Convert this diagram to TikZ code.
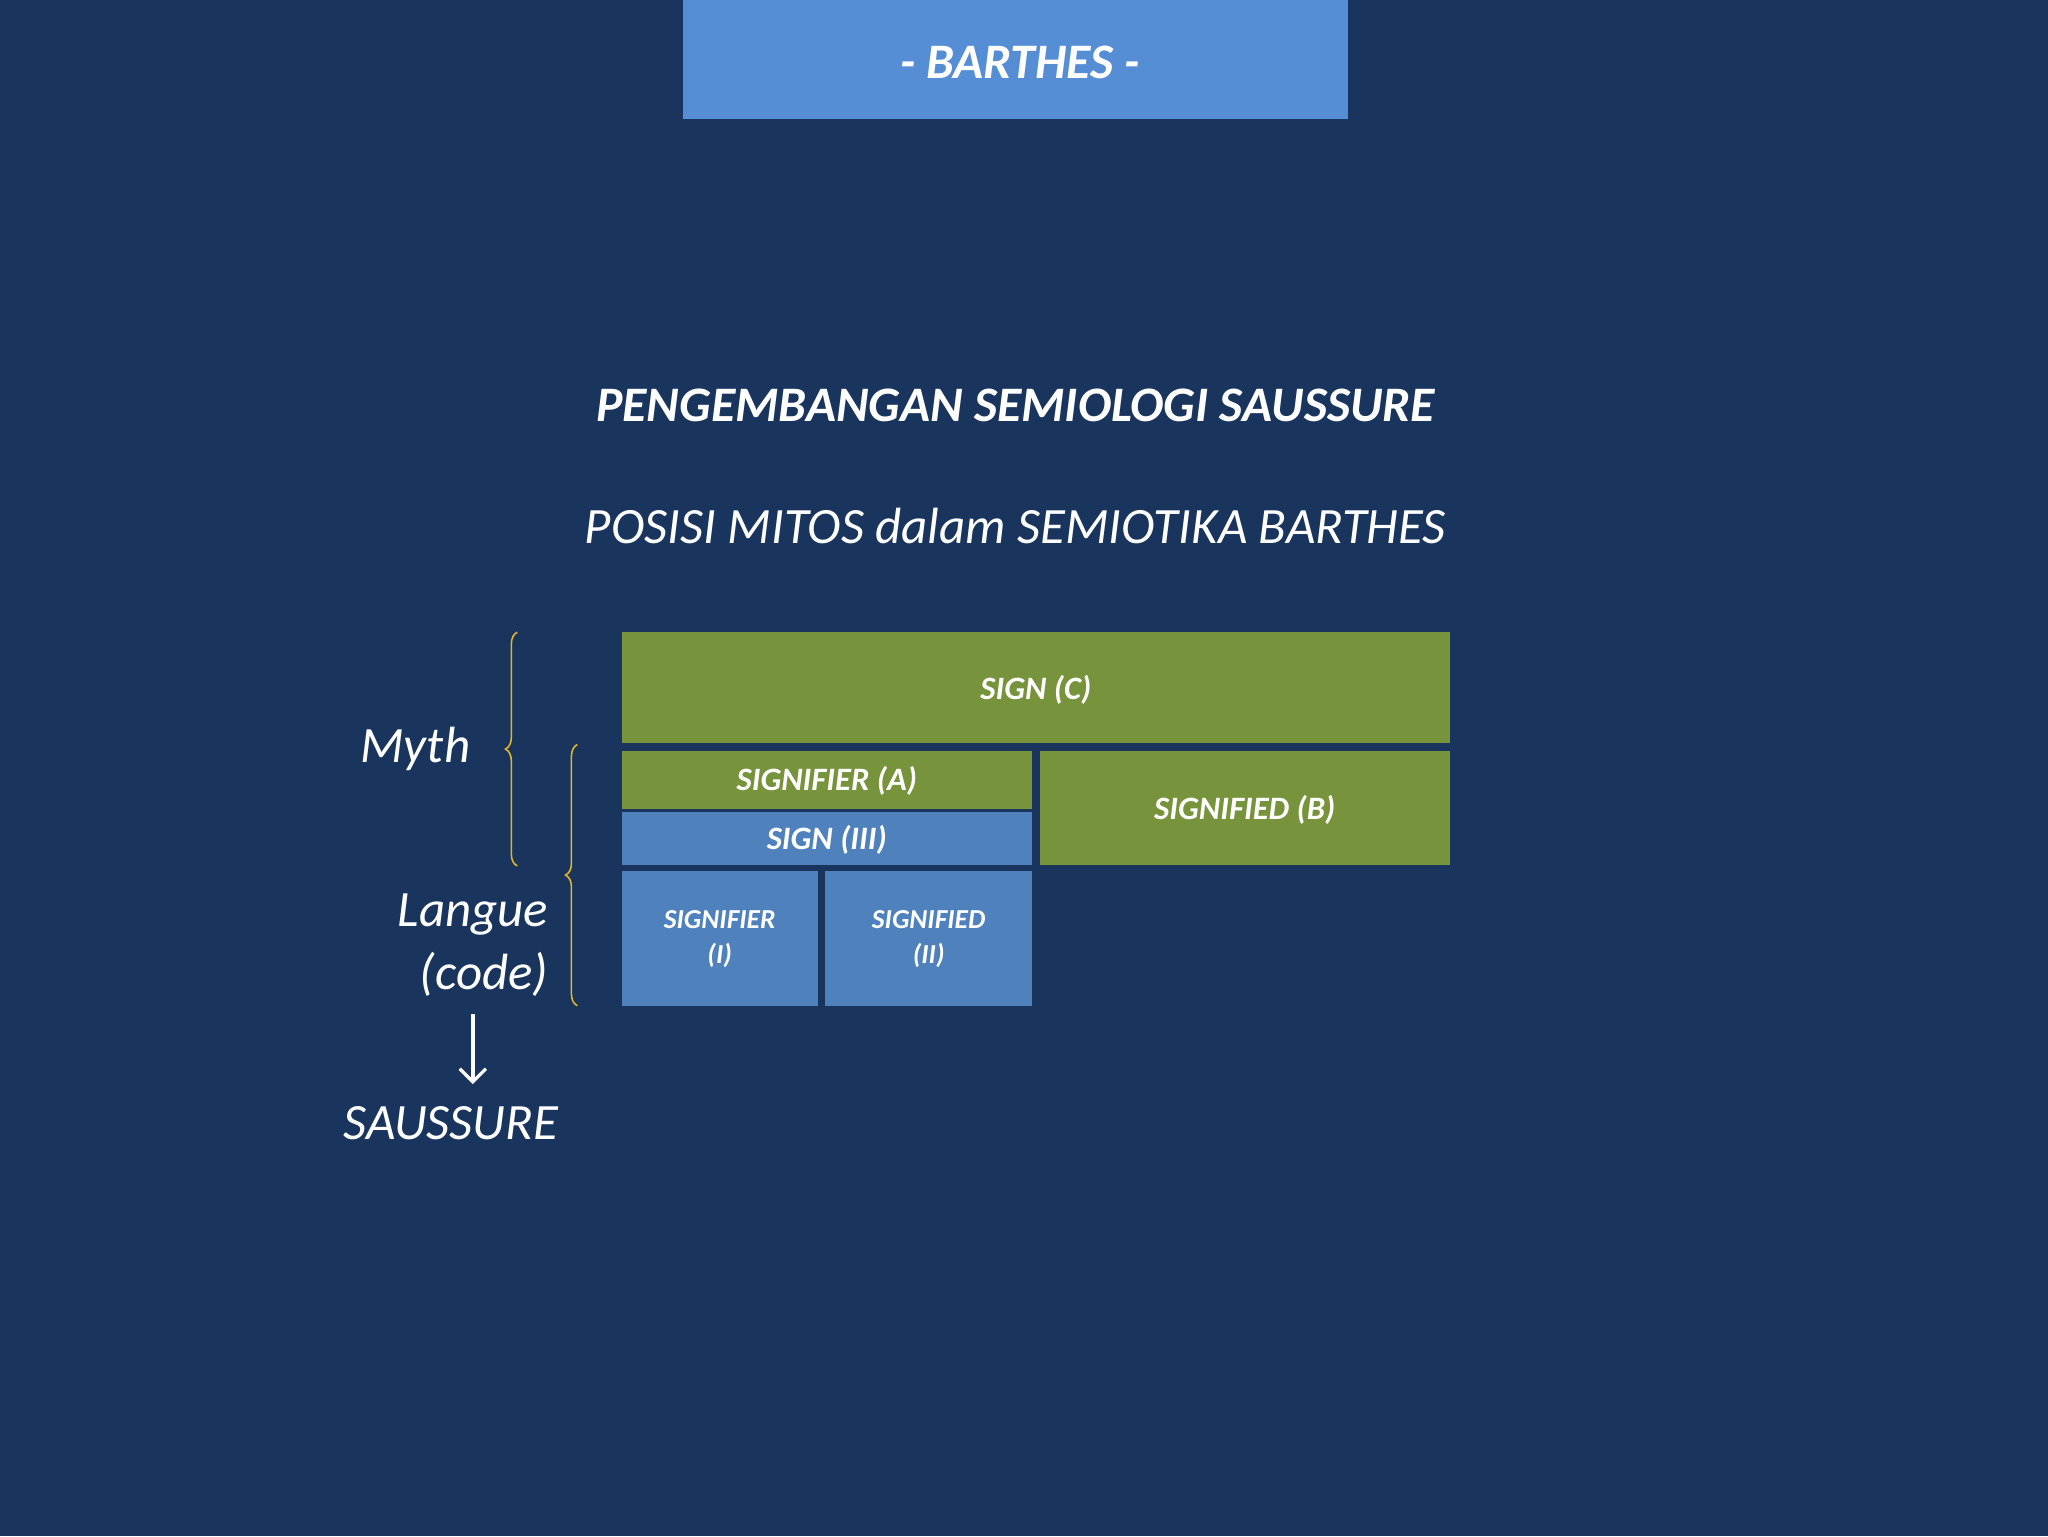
\documentclass[tikz,border=0pt]{standalone}
\usepackage{fontspec}
\setmainfont{Carlito}
\usetikzlibrary{decorations.pathreplacing,arrows.meta}
\definecolor{bg}{RGB}{25,53,94}
\definecolor{hdr}{RGB}{85,142,213}
\definecolor{grn}{RGB}{119,147,60}
\definecolor{blu}{RGB}{79,129,189}
\definecolor{gold}{RGB}{230,180,40}
\begin{document}
\begin{tikzpicture}[x=1pt,y=-1pt,
  cell/.style={draw=none,inner sep=0pt,text=white,font=\bfseries\itshape\fontsize{25}{28}\selectfont,align=center},
  small/.style={cell,font=\bfseries\itshape\fontsize{21}{27}\selectfont},
  lbl/.style={text=white,font=\itshape\fontsize{39}{46}\selectfont,inner sep=0pt},
  brc/.style={draw=gold,line width=1.2pt,decorate,decoration={brace,amplitude=9pt,aspect=0.5}}]
\fill[bg] (0,0) rectangle (1568,1176);
\useasboundingbox (0,0) rectangle (1568,1176);
\fill[hdr] (523,0) rectangle (1032,91);
\node[lbl,font=\bfseries\itshape\fontsize{38}{40}\selectfont] (hd) at (781,48) {- BARTHES -};
\node[lbl,font=\bfseries\itshape\fontsize{38}{40}\selectfont] (t1) at (777.5,310) {PENGEMBANGAN SEMIOLOGI SAUSSURE};
\node[lbl] (t2) at (777.5,403) {POSISI MITOS dalam SEMIOTIKA BARTHES};
\fill[grn] (476,484) rectangle (1110,569);
\node[cell] (c) at (793,528) {SIGN (C)};
\fill[grn] (476,575) rectangle (790,619);
\node[cell] (a) at (633,598) {SIGNIFIER (A)};
\fill[grn] (796,575) rectangle (1110,662);
\node[cell] (b) at (953,620) {SIGNIFIED (B)};
\fill[blu] (476,622) rectangle (790,662);
\node[cell] (s3) at (633,643) {SIGN (III)};
\fill[blu] (476,667) rectangle (626,770);
\node[small] (s1) at (551,719) {SIGNIFIER\\(I)};
\fill[blu] (632,667) rectangle (790,770);
\node[small] (s2) at (711,719) {SIGNIFIED\\(II)};
\coordinate (m1) at (396,663); \coordinate (m2) at (396,484);
\draw[brc] (m1) -- (m2);
\coordinate (l1) at (442,770); \coordinate (l2) at (442,570);
\draw[brc] (l1) -- (l2);
\node[lbl] (myth) at (318,573) {Myth};
\node[lbl,anchor=east] (lg) at (420,700) {Langue};
\node[lbl,anchor=east] (cd) at (420,746) {(code)};
\node[lbl] (sa) at (345,860) {SAUSSURE};
\coordinate (ar1) at (362,776); \coordinate (ar2) at (362,830);
\draw[white,line width=3pt,-{Straight Barb[length=10pt,width=20pt,line width=2.5pt]}] (ar1) -- (ar2);
\end{tikzpicture}
\end{document}
